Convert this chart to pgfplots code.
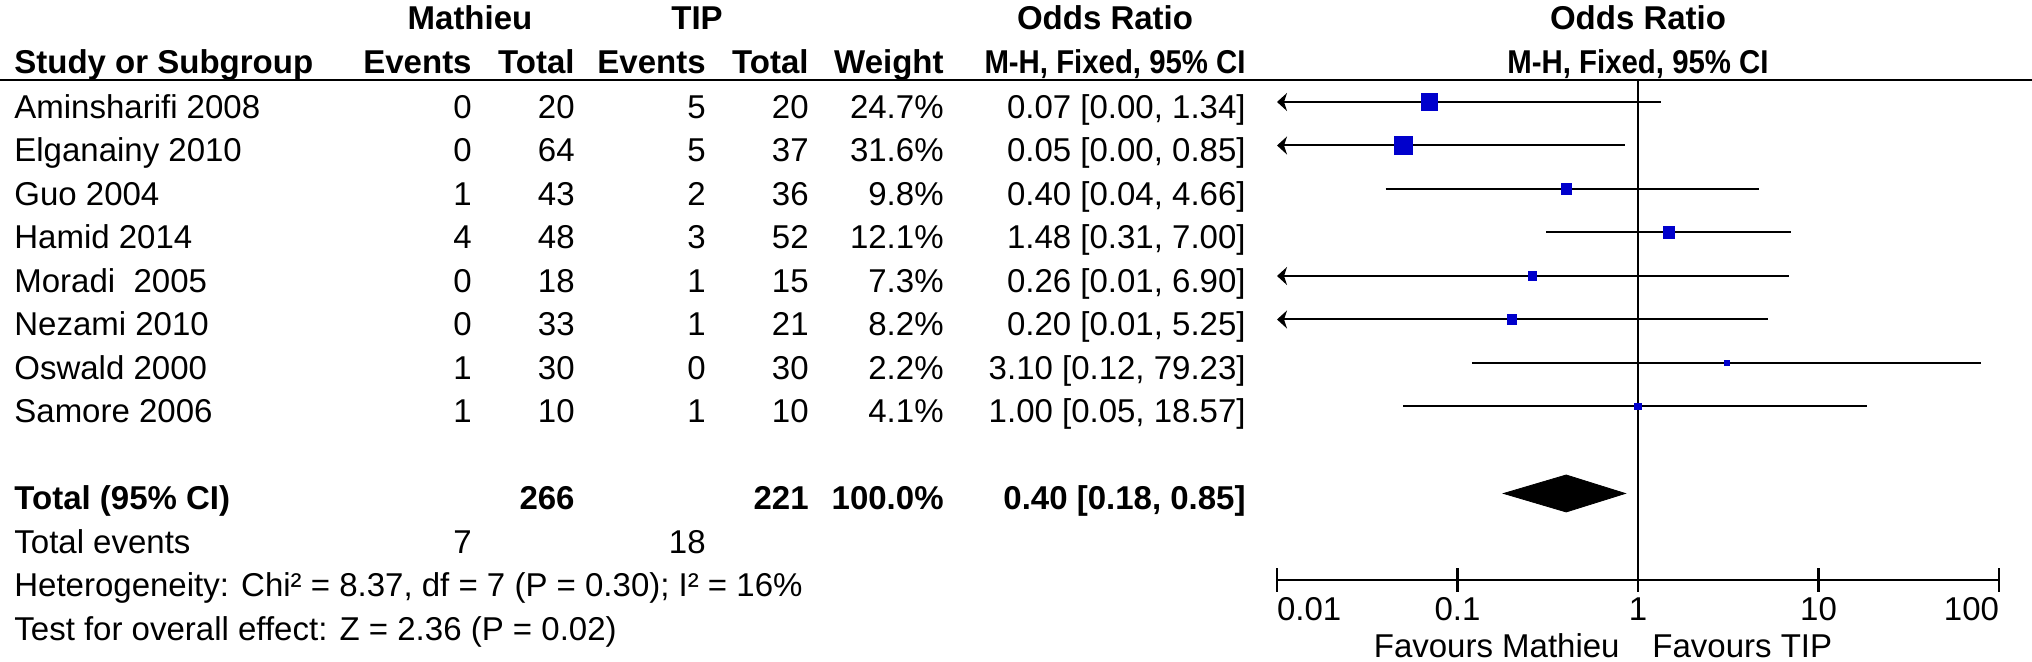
\documentclass[border=0pt]{standalone}
\usepackage{fontspec}
\setmainfont{Liberation Sans}
\usepackage{graphicx}
\usepackage{pgfplots}
\pgfplotsset{compat=1.18}
\usepackage{pgfplotstable}
\usetikzlibrary{arrows.meta}
\definecolor{sqblue}{RGB}{0,0,204}

% study rows (y = -row), odds ratio, weight in %
\pgfplotstableread{
row  or    w
-1   0.07  24.7
-2   0.05  31.6
-3   0.40  9.8
-4   1.48  12.1
-5   0.26  7.3
-6   0.20  8.2
-7   3.10  2.2
-8   1.00  4.1
}\studies

\tikzset{ci/.style={black, line width=1pt},
         cil/.style={ci, {Stealth[length=5pt,width=9pt,inset=1.5pt]}-}}
\newcommand\mh{\scalebox{0.89}[1]{M-H, Fixed, 95\% CI}}

\begin{document}
\fontsize{16.5}{19}\selectfont
\begin{tikzpicture}
\useasboundingbox (0,0) rectangle (1016pt,331pt);
% text table, in pixel units from the top left
\begin{scope}[x=0.5pt,y=-0.5pt,yshift=331pt,every node/.style={inner sep=0pt}]
  \draw[line width=1.4pt] (0,80) -- (1268,80);
  \draw[line width=1pt] (1268,80) -- (2032,80);
  \begin{scope}[font=\bfseries]
    \node[anchor=base] at (470,29.5) {Mathieu};
    \node[anchor=base] at (697,29.5) {TIP};
    \node[anchor=base] at (1105,29.5) {Odds Ratio};
    \node[anchor=base] at (1638,29.5) {Odds Ratio};
    \node[anchor=base west] at (14,73.5) {Study or Subgroup};
    \node[anchor=base east] at (472,73.5) {Events};
    \node[anchor=base east] at (575,73.5) {Total};
    \node[anchor=base east] at (706,73.5) {Events};
    \node[anchor=base east] at (809,73.5) {Total};
    \node[anchor=base east] at (944,73.5) {Weight};
    \node[anchor=base east] at (1246,73.5) {\mh};
    \node[anchor=base] at (1638,73.5) {\mh};
  \end{scope}
  \foreach \nm/\ea/\ta/\eb/\tb/\wt/\ort [count=\i] in {
    {Aminsharifi 2008}/0/20/5/20/{24.7\%}/{0.07 [0.00, 1.34]},
    {Elganainy 2010}/0/64/5/37/{31.6\%}/{0.05 [0.00, 0.85]},
    {Guo 2004}/1/43/2/36/{9.8\%}/{0.40 [0.04, 4.66]},
    {Hamid 2014}/4/48/3/52/{12.1\%}/{1.48 [0.31, 7.00]},
    {Moradi\ \ 2005}/0/18/1/15/{7.3\%}/{0.26 [0.01, 6.90]},
    {Nezami 2010}/0/33/1/21/{8.2\%}/{0.20 [0.01, 5.25]},
    {Oswald 2000}/1/30/0/30/{2.2\%}/{3.10 [0.12, 79.23]},
    {Samore 2006}/1/10/1/10/{4.1\%}/{1.00 [0.05, 18.57]}} {
    \pgfmathsetmacro\yb{118.5+43.5*(\i-1)}
    \node[anchor=base west] at (14,\yb) {\nm};
    \node[anchor=base east] at (472,\yb) {\ea};
    \node[anchor=base east] at (575,\yb) {\ta};
    \node[anchor=base east] at (706,\yb) {\eb};
    \node[anchor=base east] at (809,\yb) {\tb};
    \node[anchor=base east] at (944,\yb) {\wt};
    \node[anchor=base east] at (1246,\yb) {\ort};
  }
  \begin{scope}[font=\bfseries]
    \node[anchor=base west] at (14,510) {Total (95\% CI)};
    \node[anchor=base east] at (575,510) {266};
    \node[anchor=base east] at (809,510) {221};
    \node[anchor=base east] at (944,510) {100.0\%};
    \node[anchor=base east] at (1246,510) {0.40 [0.18, 0.85]};
  \end{scope}
  \node[anchor=base west] at (14,553.5) {Total events};
  \node[anchor=base east] at (472,553.5) {7};
  \node[anchor=base east] at (706,553.5) {18};
  \node[anchor=base west] at (14,597) {Heterogeneity: Chi² = 8.37, df = 7 (P = 0.30); I² = 16\%};
  \node[anchor=base west] at (14,640.5) {Test for overall effect: Z = 2.36 (P = 0.02)};
  \node[anchor=base east] at (1620,658) {Favours Mathieu};
  \node[anchor=base west] at (1652,658) {Favours TIP};
\end{scope}

\begin{axis}[
  at={(638.5pt,41pt)}, anchor=south west,
  scale only axis, width=361pt, height=250pt,
  xmode=log, xmin=0.01, xmax=100,
  ymin=-11.989, ymax=-0.4943,
  axis x line*=bottom, axis y line=none,
  xtick={0.01,0.1,1,10,100},
  xticklabels={\makebox[0pt][l]{0.01},0.1,1,10,\makebox[0pt][r]{100}},
  xminorticks=false, ytick=\empty,
  tick align=center, major tick length=12pt,
  x axis line style={line width=1.2pt},
  xtick style={black, line width=1.2pt},
  xticklabel style={anchor=base, yshift=-14.25pt, inner sep=0pt, font=\fontsize{16.5}{19}\selectfont},
  clip=false,
]
% line of no effect
\addplot[black, line width=0.8pt] coordinates {(1,-0.4943) (1,-11.989)};
% confidence intervals, arrow where the lower limit is below 0.01
\addplot[cil] coordinates {(0.01,-1) (1.34,-1)};
\addplot[cil] coordinates {(0.01,-2) (0.85,-2)};
\addplot[ci] coordinates {(0.04,-3) (4.66,-3)};
\addplot[ci] coordinates {(0.31,-4) (7.00,-4)};
\addplot[cil] coordinates {(0.01,-5) (6.90,-5)};
\addplot[cil] coordinates {(0.01,-6) (5.25,-6)};
\addplot[ci] coordinates {(0.12,-7) (79.23,-7)};
\addplot[ci] coordinates {(0.05,-8) (18.57,-8)};
% study estimates, square side grows with the weight
\addplot[only marks, mark=square*, draw=sqblue, fill=sqblue,
  visualization depends on={0.825*sqrt(\thisrow{w}) \as \msize},
  scatter, scatter/use mapped color={draw=sqblue, fill=sqblue},
  scatter/@pre marker code/.append style={/tikz/mark size=\msize}]
  table[x=or, y=row] {\studies};
% pooled estimate
\addplot[draw=black, fill=black] coordinates {(0.18,-10) (0.40,-9.575) (0.85,-10) (0.40,-10.425)} -- cycle;
\end{axis}
\end{tikzpicture}
\end{document}
